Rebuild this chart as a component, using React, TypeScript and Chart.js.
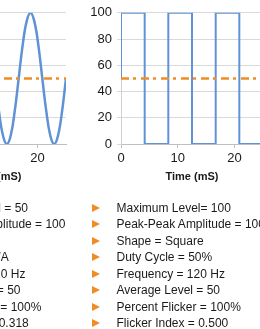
import React, { useEffect, useRef } from "react";
import { Chart, registerables } from "chart.js";

Chart.register(...registerables);

// ---- data ----
const xTicks = [0, 10, 20];
const yTicks = [0, 20, 40, 60, 80, 100];

const sineTimes = [
  0, 0.69, 1.39, 2.08, 2.78, 3.47, 4.17, 4.86, 5.56, 6.25, 6.94, 7.64,
  8.33, 9.03, 9.72, 10.42, 11.11, 11.81, 12.5, 13.19, 13.89, 14.58, 15.28, 15.97,
  16.67, 17.36, 18.06, 18.75, 19.44, 20.14, 20.83, 21.53, 22.22, 22.92, 23.61, 24.31,
  25,
];
const sineValues = [
  50, 75, 93.3, 100, 93.3, 75, 50, 25, 6.7, 0, 6.7, 25,
  50, 75, 93.3, 100, 93.3, 75, 50, 25, 6.7, 0, 6.7, 25,
  50, 75, 93.3, 100, 93.3, 75, 50, 25, 6.7, 0, 6.7, 25,
  50,
];

const squareTimes = [0, 0, 4.17, 4.17, 8.33, 8.33, 12.5, 12.5, 16.67, 16.67, 20.83, 20.83, 25];
const squareValues = [50, 100, 100, 0, 0, 100, 100, 0, 0, 100, 100, 0, 0];

const avgTimes = [0, 25];
const avgValues = [50, 50];

const sineStats = [
  "Maximum Level = 50",
  "Peak-Peak Amplitude = 100",
  "Shape = Sine",
  "Duty Cycle = N/A",
  "Frequency = 120 Hz",
  "Average Level = 50",
  "Percent Flicker = 100%",
  "Flicker Index = 0.318",
];
const squareStats = [
  "Maximum Level= 100",
  "Peak-Peak Amplitude = 100",
  "Shape = Square",
  "Duty Cycle = 50%",
  "Frequency = 120 Hz",
  "Average Level = 50",
  "Percent Flicker = 100%",
  "Flicker Index = 0.500",
];

const BLUE = "#5f92d6";
const ORANGE = "#ef8c24";
const FONT = "'Liberation Sans', Arial, sans-serif";

function pts(xs: number[], ys: number[]) {
  return xs.map((x, i) => ({ x, y: ys[i] }));
}

function WaveChart(props: { left: number; times: number[]; values: number[]; smooth: boolean; width: number }) {
  const ref = useRef<HTMLCanvasElement | null>(null);
  useEffect(() => {
    if (!ref.current) return;
    const chart = new Chart(ref.current, {
      type: "scatter",
      data: {
        datasets: [
          {
            data: pts(avgTimes, avgValues),
            showLine: true,
            borderColor: ORANGE,
            borderWidth: 2.5,
            borderDash: [8, 4, 3, 5],
            pointRadius: 0,
          },
          {
            data: pts(props.times, props.values),
            showLine: true,
            borderColor: BLUE,
            borderWidth: props.smooth ? 2.5 : 2,
            tension: props.smooth ? 0.4 : 0,
            pointRadius: 0,
          },
        ],
      },
      options: {
        animation: false,
        responsive: false,
        devicePixelRatio: 1,
        layout: { padding: { top: 10, right: 5, bottom: 6, left: 0 } },
        plugins: { legend: { display: false }, tooltip: { enabled: false } },
        scales: {
          x: {
            type: "linear",
            min: 0,
            max: 25,
            afterBuildTicks: (s: any) => {
              s.ticks = xTicks.map((v) => ({ value: v }));
            },
            afterFit: (s: any) => {
              s.height = 30;
            },
            grid: { drawOnChartArea: false, drawTicks: true, tickLength: 4, color: "#bfbfbf" },
            border: { color: "#bfbfbf", width: 1 },
            ticks: { font: { family: FONT, size: 13 }, color: "#1a1a1a", padding: 3, maxRotation: 0 },
          },
          y: {
            min: 0,
            max: 100,
            afterBuildTicks: (s: any) => {
              s.ticks = yTicks.map((v) => ({ value: v }));
            },
            afterFit: (s: any) => {
              s.width = 41;
            },
            grid: { color: "#d9d9d9", tickLength: 4 },
            border: { color: "#d0d0d0", width: 1 },
            ticks: { font: { family: FONT, size: 13 }, color: "#1a1a1a", padding: 5 },
          },
        },
      },
    } as any);
    return () => chart.destroy();
  }, []);
  return (
    <canvas
      ref={ref}
      width={props.width}
      height={180}
      style={{ position: "absolute", left: props.left, top: 0, width: props.width, height: 180 }}
    />
  );
}

function StatList(props: { left: number; items: string[] }) {
  return (
    <div style={{ position: "absolute", left: props.left, top: 199.5, fontFamily: FONT, fontSize: 12, color: "#1a1a1a" }}>
      {props.items.map((t, i) => (
        <div key={i} style={{ height: 16.5, lineHeight: "16.5px", position: "relative", whiteSpace: "nowrap" }}>
          <span
            style={{
              position: "absolute",
              left: 0,
              top: 4.25,
              width: 0,
              height: 0,
              borderLeft: `8px solid ${ORANGE}`,
              borderTop: "4px solid transparent",
              borderBottom: "4px solid transparent",
            }}
          />
          <span style={{ position: "absolute", left: 24.5, top: 0 }}>{t}</span>
        </div>
      ))}
    </div>
  );
}

function AxisTitle(props: { center: number }) {
  return (
    <div
      style={{
        position: "absolute",
        left: props.center - 50,
        width: 100,
        top: 169,
        lineHeight: "14px",
        textAlign: "center",
        fontFamily: FONT,
        fontSize: 11,
        fontWeight: "bold",
        color: "#1a1a1a",
      }}
    >
      Time (mS)
    </div>
  );
}

export default function App() {
  return (
    <div style={{ position: "absolute", left: 0, top: 0, width: 260, height: 329, overflow: "hidden", background: "#fff" }}>
      <WaveChart left={-117} times={sineTimes} values={sineValues} smooth={true} width={188} />
      <WaveChart left={80} times={squareTimes} values={squareValues} smooth={false} width={188} />
      <AxisTitle center={-5} />
      <AxisTitle center={192} />
      <StatList left={-107.5} items={sineStats} />
      <StatList left={92} items={squareStats} />
    </div>
  );
}
